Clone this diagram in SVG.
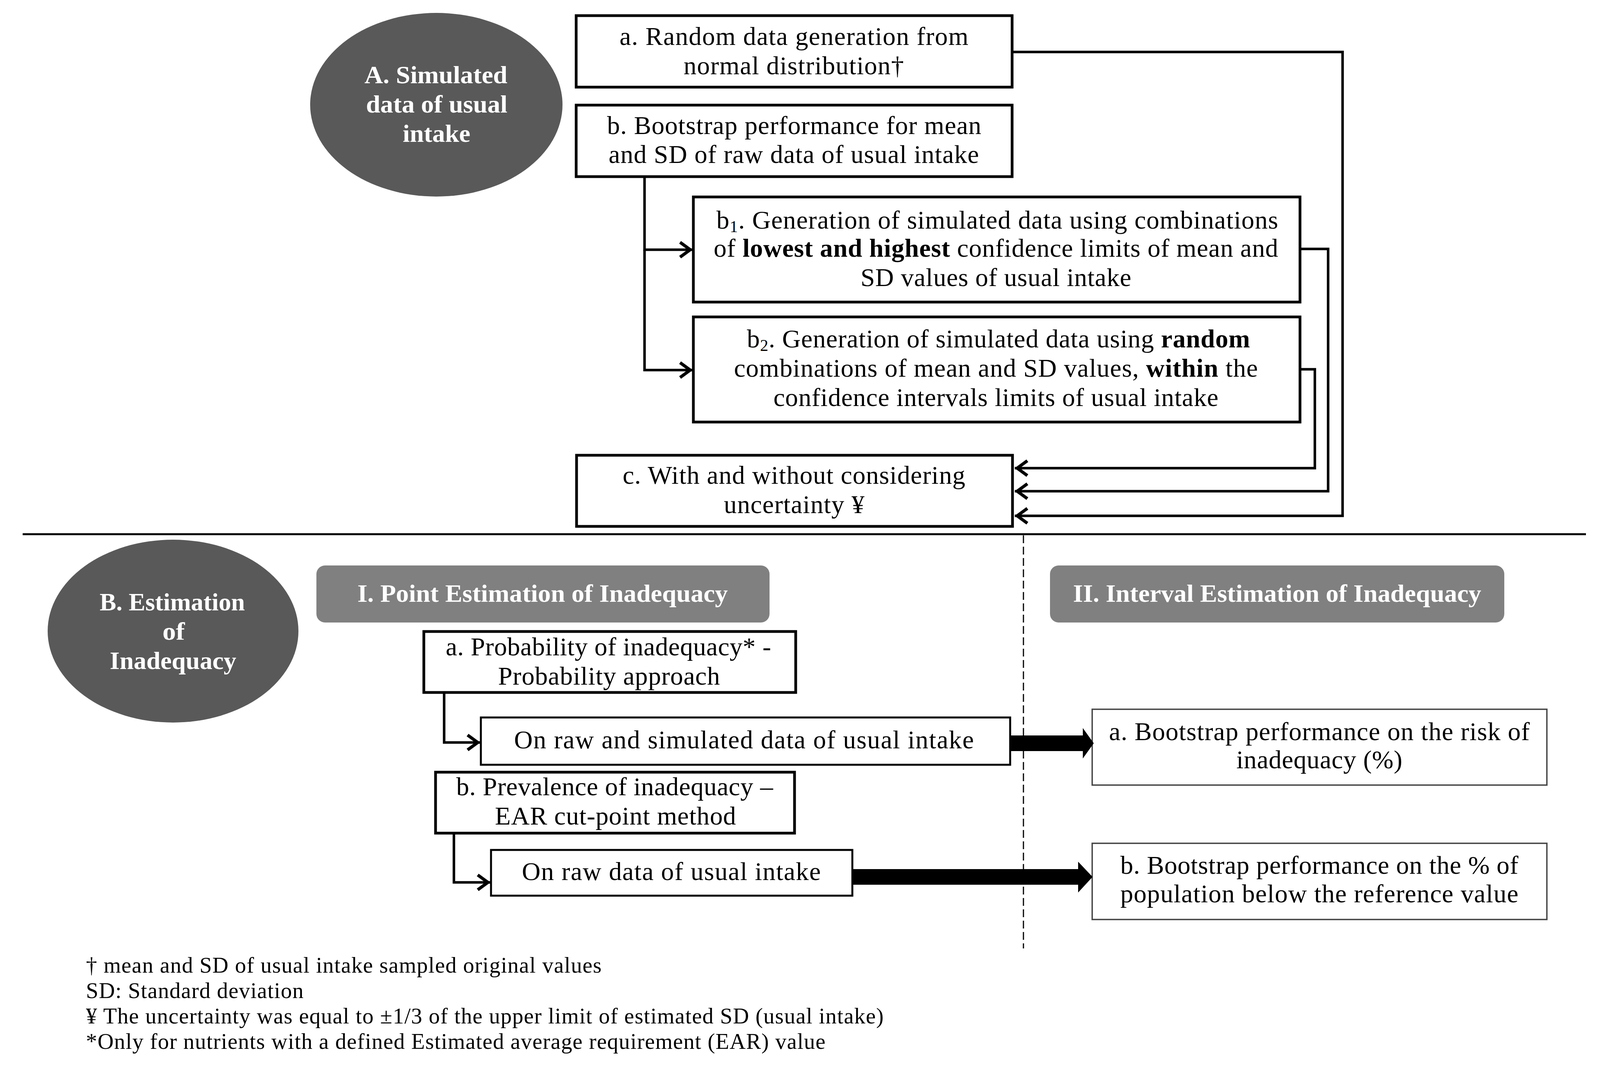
<svg xmlns="http://www.w3.org/2000/svg" width="4100" height="2733" viewBox="0 0 4100 2733">
<style>
text{font-family:"Liberation Serif","Times New Roman",serif;fill:#000}
.t{font-size:66px}
.w{font-size:64px;font-weight:bold;fill:#fff}
.fn{font-size:57px}
.b{font-weight:bold}
.box{fill:#fff;stroke:#000;stroke-width:7}
.box2{fill:#fff;stroke:#000;stroke-width:5}
.box3{fill:#fff;stroke:#444;stroke-width:3.5}
.ell{fill:#595959}
.hdr{fill:#808080}
.ln{fill:none;stroke:#000;stroke-width:6.5}
</style>
<defs>
<marker id="chev" viewBox="0 0 44 44" refX="40" refY="22" markerWidth="44" markerHeight="44" markerUnits="userSpaceOnUse" orient="auto" overflow="visible">
<path d="M8,3 L34,22 L8,41" fill="none" stroke="#000" stroke-width="8"/>
</marker>
</defs>

<g id="sectionA">
<ellipse class="ell" cx="1117" cy="268" rx="323" ry="235"/>
<text class="w" x="933" y="213" textLength="366" lengthAdjust="spacingAndGlyphs">A. Simulated</text>
<text class="w" x="937" y="288" textLength="362" lengthAdjust="spacingAndGlyphs">data of usual</text>
<text class="w" x="1031" y="363" textLength="173" lengthAdjust="spacingAndGlyphs">intake</text>
</g>

<g id="nodeA">
<rect class="box" x="1475" y="40" width="1116" height="183"/>
<text class="t" x="1586" y="115" textLength="893">a. Random data generation from</text>
<text class="t" x="1750" y="190" textLength="564">normal distribution†</text>
</g>

<g id="nodeB">
<rect class="box" x="1475" y="269" width="1116" height="183"/>
<text class="t" x="1554" y="343" textLength="958">b. Bootstrap performance for mean</text>
<text class="t" x="1558" y="417" textLength="948">and SD of raw data of usual intake</text>
</g>

<g id="nodeB1">
<rect class="box" x="1775" y="504" width="1553" height="269"/>
<text class="t" x="1834" y="585" textLength="1438">b<tspan font-size="42" dy="9">1</tspan><tspan dy="-9">. Generation of simulated data using combinations</tspan></text>
<text class="t" x="1827" y="657" textLength="1445">of <tspan class="b">lowest and highest</tspan> confidence limits of mean and</text>
<text class="t" x="2203" y="732" textLength="693">SD values of usual intake</text>
</g>

<g id="nodeB2">
<rect class="box" x="1775" y="811" width="1553" height="269"/>
<text class="t" x="1912" y="889" textLength="1288">b<tspan font-size="42" dy="9">2</tspan><tspan dy="-9">. Generation of simulated data using </tspan><tspan class="b">random</tspan></text>
<text class="t" x="1879" y="964" textLength="1341">combinations of mean and SD values, <tspan class="b">within</tspan> the</text>
<text class="t" x="1980" y="1039" textLength="1139">confidence intervals limits of usual intake</text>
</g>

<g id="nodeC">
<rect class="box" x="1476" y="1165" width="1116" height="182"/>
<text class="t" x="1594" y="1238" textLength="877">c. With and without considering</text>
<text class="t" x="1853" y="1313" textLength="360">uncertainty ¥</text>
</g>

<g id="sectionB">
<ellipse class="ell" cx="443" cy="1615" rx="321" ry="234"/>
<text class="w" x="255" y="1562" textLength="372" lengthAdjust="spacingAndGlyphs">B. Estimation</text>
<text class="w" x="416" y="1637" textLength="57" lengthAdjust="spacingAndGlyphs">of</text>
<text class="w" x="281" y="1712" textLength="324" lengthAdjust="spacingAndGlyphs">Inadequacy</text>
</g>

<g id="headerI">
<rect class="hdr" x="810" y="1447" width="1160" height="146" rx="22"/>
<text class="w" x="915" y="1540" textLength="948" lengthAdjust="spacingAndGlyphs">I. Point Estimation of Inadequacy</text>
</g>

<g id="headerII">
<rect class="hdr" x="2688" y="1447" width="1163" height="146" rx="22"/>
<text class="w" x="2747" y="1540" textLength="1045" lengthAdjust="spacingAndGlyphs">II. Interval Estimation of Inadequacy</text>
</g>

<g id="nodeProb">
<rect class="box" x="1085" y="1616" width="952" height="156"/>
<text class="t" x="1141" y="1677" textLength="833">a. Probability of inadequacy* -</text>
<text class="t" x="1275" y="1752" textLength="568">Probability approach</text>
</g>

<g id="nodeRawSim">
<rect class="box2" x="1231" y="1836" width="1355" height="121"/>
<text class="t" x="1316" y="1915" textLength="1177">On raw and simulated data of usual intake</text>
</g>

<g id="nodePrev">
<rect class="box" x="1115" y="1976" width="919" height="156"/>
<text class="t" x="1168" y="2035" textLength="811">b. Prevalence of inadequacy –</text>
<text class="t" x="1267" y="2110" textLength="617">EAR cut-point method</text>
</g>

<g id="nodeRaw">
<rect class="box2" x="1257" y="2175" width="925" height="117"/>
<text class="t" x="1336" y="2252" textLength="765">On raw data of usual intake</text>
</g>

<g id="nodeBootA">
<rect class="box3" x="2796" y="1815" width="1164" height="194"/>
<text class="t" x="2839" y="1894" textLength="1077">a. Bootstrap performance on the risk of</text>
<text class="t" x="3165" y="1966" textLength="425">inadequacy (%)</text>
</g>

<g id="nodeBootB">
<rect class="box3" x="2796" y="2158" width="1164" height="195"/>
<text class="t" x="2868" y="2236" textLength="1019">b. Bootstrap performance on the % of</text>
<text class="t" x="2868" y="2309" textLength="1019">population below the reference value</text>
</g>

<g id="connectors">
<line x1="58" y1="1367" x2="4060" y2="1367" stroke="#000" stroke-width="5"/>
<line x1="2620" y1="1370" x2="2620" y2="2427" stroke="#000" stroke-width="3" stroke-dasharray="20 9"/>
<polyline class="ln" points="2591,133 3437,133 3437,1320 2598,1320" marker-end="url(#chev)"/>
<polyline class="ln" points="3328,637 3400,637 3400,1257 2598,1257" marker-end="url(#chev)"/>
<polyline class="ln" points="3328,945 3366,945 3366,1198 2598,1198" marker-end="url(#chev)"/>
<polyline class="ln" points="1650,452 1650,639 1773,639" marker-end="url(#chev)"/>
<polyline class="ln" points="1650,639 1650,947 1773,947" marker-end="url(#chev)"/>
<polyline class="ln" points="1137,1772 1137,1900 1229,1900" marker-end="url(#chev)"/>
<polyline class="ln" points="1162,2132 1162,2258 1255,2258" marker-end="url(#chev)"/>
<polygon points="2588,1882 2772,1882 2772,1863 2800,1902 2772,1941 2772,1922 2588,1922" fill="#000"/>
<polygon points="2184,2224 2760,2224 2760,2205 2797,2244 2760,2284 2760,2264 2184,2264" fill="#000"/>
</g>

<g id="footnotes">
<text class="fn" x="220" y="2489" textLength="1320">† mean and SD of usual intake sampled original values</text>
<text class="fn" x="220" y="2554" textLength="557">SD: Standard deviation</text>
<text class="fn" x="220" y="2619" textLength="2042">¥  The uncertainty was equal to ±1/3 of the upper limit of estimated SD (usual intake)</text>
<text class="fn" x="220" y="2684" textLength="1893">*Only for nutrients with a defined Estimated average requirement (EAR) value</text>
</g>
</svg>
